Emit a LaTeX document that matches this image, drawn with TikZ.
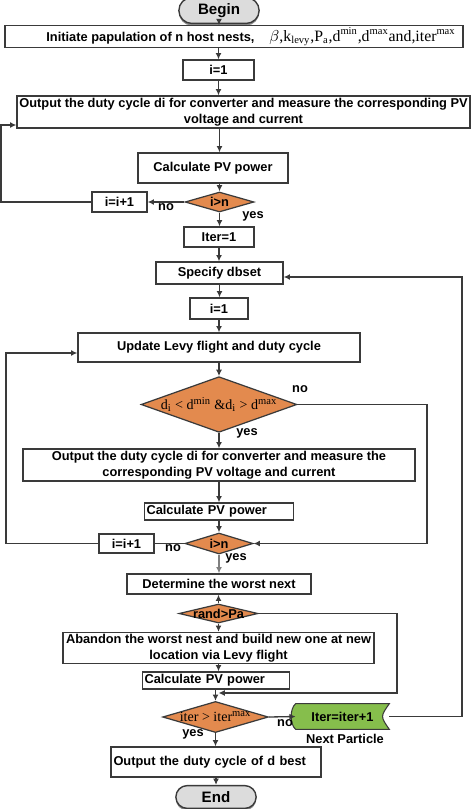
\documentclass[tikz,border=0pt]{standalone}
\usepackage{fontspec}
\setmainfont{Liberation Sans}
\newfontfamily\tnr{Liberation Serif}
\usepackage{tikz}
\usetikzlibrary{arrows.meta,shapes.geometric,shapes.misc,calc,backgrounds,shadows}
\definecolor{fcline}{HTML}{3A3A3A}
\definecolor{fcorange}{HTML}{E38A4E}
\definecolor{fcgreen}{HTML}{86BE4C}
\definecolor{fcgrey}{HTML}{DCDCDC}
\definecolor{fcshade}{HTML}{8C8C8C}
\newcommand{\fcfont}{\fontsize{7.3}{8.8}\selectfont\bfseries}
\newcommand{\fcbig}{\fontsize{8.6}{9}\selectfont\bfseries}
\newcommand{\fcmath}{\tnr\mdseries\fontsize{8}{8}\selectfont}

\begin{document}
\begin{tikzpicture}[x=0.02cm,y=-0.02cm,
  proc/.style={draw=fcline,line width=0.75pt,fill=white,inner sep=1pt,font=\fcfont,align=center},
  term/.style={draw=fcline,line width=0.8pt,rounded rectangle,fill=fcgrey,font=\fcbig,
    drop shadow={shadow xshift=0pt,shadow yshift=-1.2pt,fill=fcshade,opacity=1}},
  test/.style={draw=fcline,line width=0.7pt,diamond,fill=fcorange,inner sep=0pt,font=\fcfont},
  flow/.style={draw=fcline,line width=0.75pt,-{Latex[length=3.6pt,width=3.4pt]}},
  link/.style={draw=fcline,line width=0.75pt},
  tag/.style={font=\fcfont}]
\useasboundingbox (0,0) rectangle (474,809);

\node[term,minimum width=1.84cm,minimum height=0.38cm] (begin) at (219,10.5) {Begin};
\node[proc,minimum width=9.16cm,minimum height=0.42cm] (init) at (234,36.5)
  {\hspace*{0.68cm}Initiate papulation of n host nests,\hspace{0.3cm}{\tnr\mdseries\fontsize{9}{9}\selectfont $\beta$,k\textsubscript{levy},P\textsubscript{a},d\textsuperscript{min},d\textsuperscript{max}and,iter\textsuperscript{max}}};
\node[proc,minimum width=1.42cm,minimum height=0.4cm] (ione) at (218.5,70) {i=1};
\node[proc,minimum width=9.06cm,minimum height=0.64cm] (outa) at (243.5,112)
  {Output the duty cycle di for converter and measure the corresponding PV\\voltage and current};
\node[proc,minimum width=3cm,minimum height=0.6cm] (calca) at (213,168) {Calculate PV power};
\node[test,aspect=3.4,minimum width=1.38cm,minimum height=0.4cm] (testa) at (219.5,202) {i>n};
\node[proc,minimum width=1.1cm,minimum height=0.4cm] (inca) at (119.5,202) {i=i+1};
\node[proc,minimum width=1.4cm,minimum height=0.4cm] (iter) at (219,237) {Iter=1};
\node[proc,minimum width=2.54cm,minimum height=0.44cm] (dbset) at (219.5,273) {Specify dbset};
\node[proc,minimum width=1.16cm,minimum height=0.42cm] (itwo) at (219,308.5) {i=1};
\node[proc,minimum width=5.64cm,minimum height=0.58cm] (levy) at (219,347.5) {Update Levy flight and duty cycle};
\node[test,aspect=2.8,minimum width=2.72cm,minimum height=0.98cm] (testb) at (219,404.5)
  {\fcmath d\textsubscript{i} < d\textsuperscript{min} \&d\textsubscript{i} > d\textsuperscript{max}};
\node[proc,minimum width=7.84cm,minimum height=0.64cm] (outb) at (219,465)
  {Output the duty cycle di for converter and measure the\\corresponding PV voltage and current};
\node[proc,minimum width=2.96cm,minimum height=0.34cm,align=left,text width=2.9cm] (calcb) at (219,511.5) {Calculate PV power};
\node[test,aspect=3.2,minimum width=1.36cm,minimum height=0.42cm] (testc) at (219,543.5) {i>n};
\node[proc,minimum width=1.1cm,minimum height=0.38cm] (incb) at (126.5,543.5) {i=i+1};
\node[proc,minimum width=3.68cm,minimum height=0.4cm] (worst) at (219,584) {Determine the worst next};
\node[test,aspect=4.2,inner sep=-2pt,minimum width=1.58cm,minimum height=0.38cm] (rand) at (218.5,613.5) {rand>Pa};
\node[proc,minimum width=6.22cm,minimum height=0.56cm] (aband) at (218.5,648)
  {Abandon the worst nest and build new one at new\\location via Levy flight};
\node[proc,minimum width=2.92cm,minimum height=0.34cm,align=left,text width=2.86cm] (calcc) at (216,680.5) {Calculate PV power};
\node[test,aspect=3.4,minimum width=2.06cm,minimum height=0.6cm] (testd) at (215.5,717) {\fcmath iter > iter\textsuperscript{max}};
\node[tag,minimum width=1.86cm,minimum height=0.5cm] (next) at (342.5,716.5) {Iter=iter+1};
\node[tag] (nextlbl) at (345,739) {Next Particle};
\node[proc,minimum width=4.2cm,minimum height=0.6cm,align=left,text width=4.1cm] (best) at (216,762) {Output the duty cycle of d best};
\node[term,minimum width=1.84cm,minimum height=0.4cm] (end) at (216,797) {End};

\begin{scope}[on background layer]
\draw[fcline,line width=0.6pt,fill=fcgreen] (next.north west)
  .. controls ($(next.north west)+(-6,5)$) and ($(next.south west)+(-6,-5)$) .. (next.south west)
  -- (next.south east) .. controls ($(next.east)+(-9,0)$) .. (next.north east) -- cycle;
\end{scope}

\coordinate (loopa) at (1,125);
\coordinate (loopb) at (6,353);
\coordinate (skipb) at (427,543.5);
\coordinate (skipc) at (397,693);
\coordinate (loopc) at (462,277);

\draw[flow] (begin.south) -- (begin.south |- init.north);
\draw[flow] (ione.north |- init.south) -- (ione.north);
\draw[flow] (ione.south) -- (ione.south |- outa.north);
\draw[flow] (testa.north |- outa.south) -- (testa.north |- calca.north);
\draw[flow] (testa.north |- calca.south) -- (testa.north);
\draw[flow] (testa.south) -- (testa.south |- iter.north);
\draw[flow] (testa.west) -- (inca.east);
\draw[flow] (inca.west) -| (loopa) -- (loopa -| outa.west);
\draw[flow] (iter.south) -- (iter.south |- dbset.north);
\draw[flow] (dbset.south) -- (dbset.south |- itwo.north);
\draw[flow] (itwo.south) -- (itwo.south |- levy.north);
\draw[flow] (levy.south) -- (levy.south |- testb.north);
\draw[flow] (testb.south) -- (testb.south |- outb.north);
\draw[flow] (outb.south) -- (outb.south |- calcb.north);
\draw[flow] (calcb.south) -- (calcb.south |- testc.north);
\draw[flow,draw=gray] (testc.south) -- (testc.south |- worst.north);
\draw[link] (testc.west) -- (incb.east);
\draw[flow] (incb.west) -| (loopb) -- (loopb -| levy.west);
\draw[flow] (testb.east) -| (skipb) -- (testc.east);
\draw[flow] (rand.north) -- (rand.north |- worst.south);
\draw[flow] (rand.south) -- (rand.south |- aband.north);
\draw[flow] (rand.south |- aband.south) -- (rand.south |- calcc.north);
\draw[flow] (testd.north |- calcc.south) -- (testd.north);
\draw[flow] (rand.east) -| (skipc) -- ($(testd.north |- skipc)+(3,0)$);
\draw[flow] (testd.east) -- (next.west);
\draw[flow] (next.east) -| (loopc) -- (loopc -| dbset.east);
\draw[flow] (testd.south) -- (testd.south |- best.north);
\draw[flow] (best.south) -- (best.south |- end.north);

\node[tag] (noa) at (166,207) {no};
\node[tag] (yesa) at (253,216) {yes};
\node[tag] (nob) at (300,389) {no};
\node[tag] (yesb) at (247,433) {yes};
\node[tag] (noc) at (173,548) {no};
\node[tag] (yesc) at (236,558) {yes};
\node[tag] (nod) at (285,723) {no};
\node[tag] (yesd) at (193,734) {yes};
\end{tikzpicture}
\end{document}
